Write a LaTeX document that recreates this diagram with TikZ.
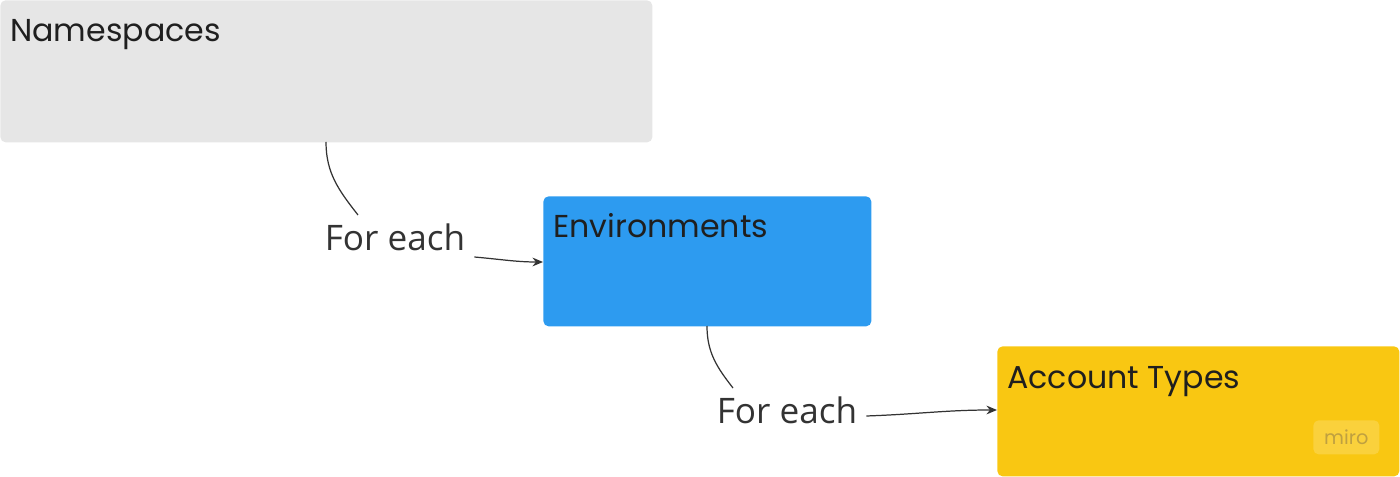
\documentclass[tikz,border=0pt]{standalone}
\usepackage{fontspec}
\setmainfont{Open Sans}
\newfontfamily\boxfont{Poppins}
\usetikzlibrary{arrows.meta, positioning}
\definecolor{nsgray}{HTML}{E6E6E6}
\definecolor{envblue}{HTML}{2D9BF0}
\definecolor{accyellow}{HTML}{F9C712}
\definecolor{linegray}{HTML}{333333}
\definecolor{mirotext}{HTML}{BFA040}

\begin{document}
\begin{tikzpicture}[>={Stealth[length=6pt, width=5pt]},
    box/.style={rectangle, rounded corners=3pt, anchor=north west, inner sep=0pt},
    title/.style={anchor=base west, inner sep=0pt, text=black!88, font=\boxfont\fontsize{18pt}{22pt}\selectfont},
    lbl/.style={inner sep=2pt, text=linegray, font=\fontsize{20pt}{24pt}\selectfont},
    link/.style={linegray, line width=0.7pt}]
    \useasboundingbox (0,0) rectangle (28,-9.54);

    % 方框
    \node[box, fill=nsgray, minimum width=13.04cm, minimum height=2.84cm] (ns) at (0,0) {};
    \node[title] (nstext) at (0.2,-0.84) {Namespaces};
    \node[box, fill=envblue, minimum width=6.56cm, minimum height=2.6cm] (env) at (10.86,-3.92) {};
    \node[title] (envtext) at (11.06,-4.76) {Environments};
    \node[box, fill=accyellow, minimum width=8.04cm, minimum height=2.6cm] (acc) at (19.94,-6.92) {};
    \node[title] (acctext) at (20.14,-7.78) {Account Types};

    % 标签
    \node[lbl] (each1) at (7.9,-4.75) {For each};
    \node[lbl] (each2) at (15.74,-8.2) {For each};
    \coordinate (c1) at (7.16,-4.3);
    \coordinate (c2) at (14.66,-7.76);

    % 连线
    \draw[link] (6.52,-2.84) to[out=-90, in=128] (c1);
    \draw[link, ->] ([xshift=3pt]each1.east |- 0,-5.14) to[out=-5, in=180] (env.west |- 0,-5.24);
    \draw[link] (14.14,-6.52) to[out=-90, in=128] (c2);
    \draw[link, ->] ([xshift=3pt]each2.east |- 0,-8.32) to[out=2, in=180] (acc.west |- 0,-8.2);

    % 水印
    \node[box, fill=white, fill opacity=0.18, minimum width=1.32cm, minimum height=0.68cm] (miro) at (26.26,-8.4) {};
    \node[text=mirotext, font=\boxfont\fontsize{11pt}{13pt}\selectfont] (mirotext) at (miro.center) {miro};
\end{tikzpicture}
\end{document}
